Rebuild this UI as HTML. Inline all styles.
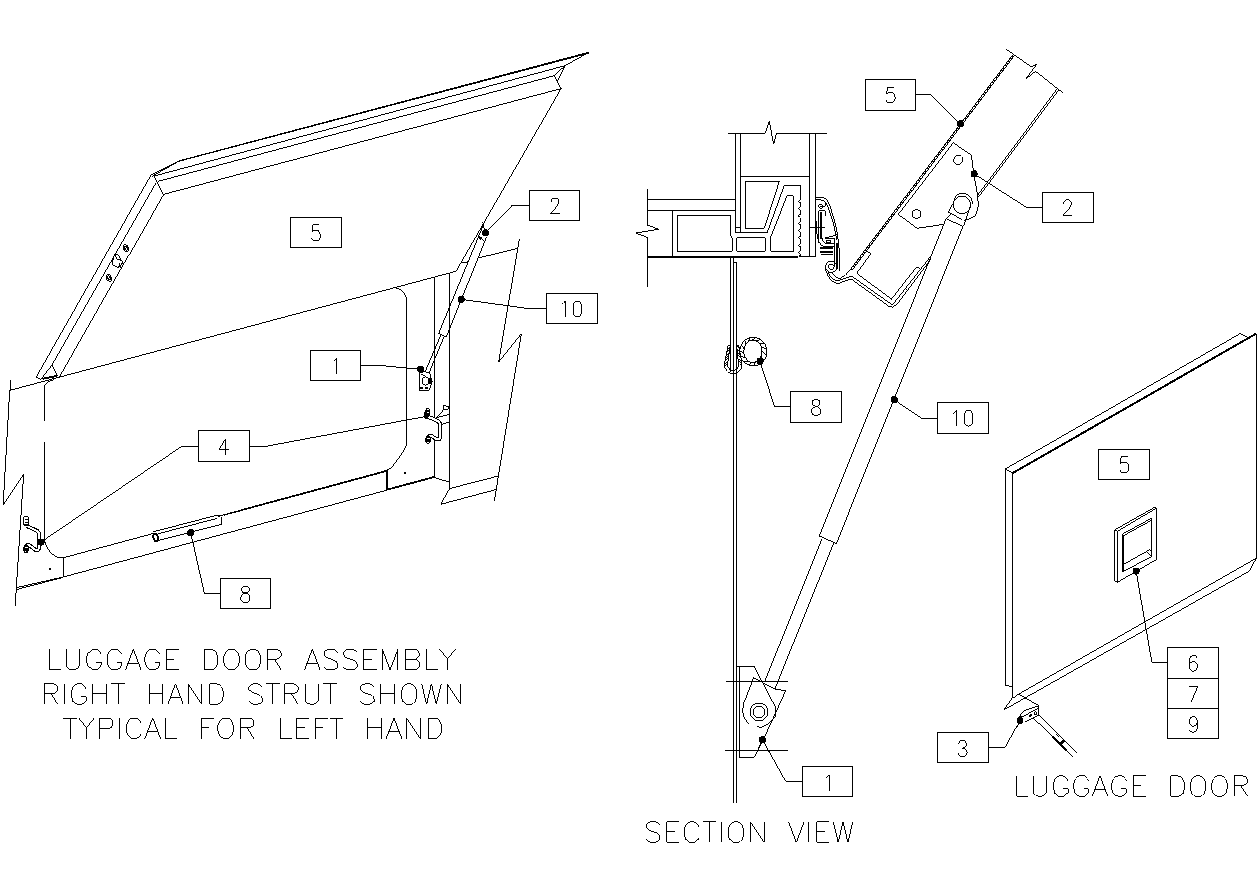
<!DOCTYPE html>
<html><head><meta charset="utf-8"><title>Luggage Door Assembly</title>
<style>
html,body{margin:0;padding:0;background:#fff;font-family:"Liberation Sans",sans-serif;}
svg{display:block;}
</style></head>
<body>
<svg width="1260" height="892" viewBox="0 0 1260 892" shape-rendering="crispEdges">
<rect x="0" y="0" width="1260" height="892" fill="#fff" stroke="none"/>
<g fill="none" stroke="#000" stroke-width="0.99" stroke-linecap="butt" stroke-linejoin="miter">
<path d="M151.0 175.0 L178.6 161.0 L589.3 52.1"/>
<path d="M151.9 176.4 L178.6 161.3 L589.3 53.1"/>
<path d="M154.3 176.0 L565.0 65.7"/>
<path d="M589.3 52.1 L565.0 65.7"/>
<path d="M157.9 181.4 L554.3 75.7"/>
<path d="M554.3 75.7 L565.0 65.7"/>
<path d="M554.3 75.7 L561.1 88.6"/>
<path d="M565.0 65.7 L557.8 80.5"/>
<path d="M163.1 194.5 L561.1 88.6"/>
<path d="M154.3 176.4 L163.1 194.5"/>
<path d="M561.1 88.6 L456.0 271.3"/>
<path d="M151.0 175.0 L36.0 377.4"/>
<path d="M156.2 182.6 L51.9 365.2 L41.7 378.3"/>
<path d="M163.1 194.5 L59.3 377.1"/>
<path d="M35.5 377.4 L39.8 379.5 L41.7 378.6 L57.4 375.2"/>
<path d="M42.5 379.2 L57.4 376.2"/>
<path d="M51.9 365.2 L57.4 376.0"/>
<path d="M111.17 276.84 L111.55 278.02 L111.61 279.19 L111.35 280.20 L110.79 280.93 L110.00 281.30 L109.08 281.25 L108.14 280.81 L107.29 280.01 L106.63 278.96 L106.25 277.78 L106.19 276.61 L106.45 275.60 L107.01 274.87 L107.80 274.50 L108.72 274.55 L109.66 274.99 L110.51 275.79 Z"/>
<path d="M109.99 277.39 L110.26 278.19 L110.33 278.95 L110.18 279.55 L109.83 279.89 L109.34 279.94 L108.79 279.67 L108.25 279.13 L107.81 278.41 L107.54 277.61 L107.47 276.85 L107.62 276.25 L107.97 275.91 L108.46 275.86 L109.01 276.13 L109.55 276.67 Z"/>
<path d="M107.4 279.4 L110.4 276.4"/>
<path d="M128.27 247.04 L128.65 248.22 L128.71 249.39 L128.45 250.40 L127.89 251.13 L127.10 251.50 L126.18 251.45 L125.24 251.01 L124.39 250.21 L123.73 249.16 L123.35 247.98 L123.29 246.81 L123.55 245.80 L124.11 245.07 L124.90 244.70 L125.82 244.75 L126.76 245.19 L127.61 245.99 Z"/>
<path d="M127.09 247.59 L127.36 248.39 L127.43 249.15 L127.28 249.75 L126.93 250.09 L126.44 250.14 L125.89 249.87 L125.35 249.33 L124.91 248.61 L124.64 247.81 L124.57 247.05 L124.72 246.45 L125.07 246.11 L125.56 246.06 L126.11 246.33 L126.65 246.87 Z"/>
<path d="M124.5 249.6 L127.5 246.6"/>
<path d="M114.3 254.3 L118.6 255.2 L122.9 262.9 L118.1 267.6 L112.1 264.3 Z"/>
<path d="M115.3 255.3 L117.5 259.5 L120.5 260.5"/>
<path d="M118.1 267.6 L120.2 262.8"/>
<path d="M119.8 268.0 L121.8 263.3"/>
<path d="M9.7 390.4 L456.0 271.3"/>
<path d="M10.3 380.0 L10.3 389.5"/>
<path d="M9.7 390.4 L3.1 505.4 L23.6 474.3 L15.2 605.7"/>
<path d="M16.7 587.6 L63.3 577.0 L434.0 477.5"/>
<path d="M16.7 589.5 L63.3 577.3"/>
<path d="M386.7 489.3 L434.0 476.6"/>
<path d="M44.50 420.70 L44.50 386.70 L44.72 385.79 L45.09 384.92 L45.61 384.11 L46.29 383.34 L47.12 382.62 L48.11 381.96 L49.25 381.35 L50.55 380.78 L52.00 380.27 L53.60 379.80"/>
<path d="M44.50 442.00 L44.50 540.00 L44.78 541.24 L45.11 542.45 L45.48 543.62 L45.89 544.75 L46.34 545.84 L46.84 546.89 L47.37 547.91 L47.95 548.88 L48.57 549.82 L49.24 550.72 L49.94 551.58 L50.69 552.41 L51.48 553.19 L52.31 553.94 L53.18 554.65 L54.10 555.32 L55.06 555.95 L56.06 556.54 L57.10 557.10 L63.60 557.70"/>
<path d="M63.6 557.7 L152.5 533.7"/>
<path d="M217.5 516.2 L380.0 472.3 L387.1 470.0 L391.4 467.9 L401.4 454.3 L405.3 448.0"/>
<path d="M405.30 448.00 L405.78 446.94 L406.12 445.75 L406.33 444.44 L406.40 443.00 L406.40 299.00 L406.23 297.89 L405.98 296.83 L405.63 295.82 L405.19 294.85 L404.66 293.93 L404.03 293.06 L403.32 292.24 L402.51 291.47 L401.61 290.74 L400.62 290.07 L399.54 289.44 L398.37 288.86 L397.10 288.32 L395.75 287.84 L394.30 287.40"/>
<path d="M224.0 515.2 L386.0 471.5"/>
<path d="M63.3 557.7 L63.3 577.1"/>
<path d="M386.7 470.0 L386.7 490.0" stroke-width="2"/>
<rect x="49" y="568" width="2" height="2" fill="#000" stroke="none"/>
<rect x="404" y="472" width="2" height="2" fill="#000" stroke="none"/>
<path d="M434.4 276.9 L434.4 417.8"/>
<path d="M434.4 440.3 L434.4 477.1"/>
<path d="M449.6 272.9 L449.6 488.6"/>
<path d="M434.0 477.5 L449.6 482.1"/>
<path d="M449.6 488.6 L497.9 476.1"/>
<path d="M449.6 488.6 L440.7 504.3 L496.0 489.6"/>
<path d="M519.3 239.3 L498.6 362.1 L521.4 333.6 L494.3 501.4"/>
<path d="M478.6 257.9 L517.1 248.6"/>
<path d="M483.6 224.3 L438.6 333.6 L446.4 336.9 L486.4 237.1"/>
<path d="M441.0 334.6 L425.5 371.0"/>
<path d="M444.3 336.0 L429.0 373.0"/>
<path d="M461.4 262.9 L468.6 261.7"/>
<path d="M482.9 222.0 L484.5 231.0"/>
<circle cx="480.5" cy="238.3" r="1.3" fill="#000" stroke="none"/>
<path d="M479.0 236.5 L484.0 240.5"/>
<path d="M419.7 372.9 L419.7 390.7 L429.3 390.0 L432.3 381.0 L430.0 373.5 L424.0 371.0"/>
<path d="M428.90 381.00 L428.75 382.24 L428.31 383.37 L427.62 384.28 L426.74 384.91 L425.75 385.19 L424.74 385.09 L423.80 384.64 L423.01 383.86 L422.44 382.82 L422.14 381.63 L422.14 380.37 L422.44 379.18 L423.01 378.14 L423.80 377.36 L424.74 376.91 L425.75 376.81 L426.74 377.09 L427.62 377.72 L428.31 378.63 L428.75 379.76 Z"/>
<ellipse cx="430.3" cy="380.7" rx="2.2" ry="3.2" fill="#000" stroke="none"/>
<path d="M422.50 388.00 L422.42 388.38 L422.21 388.71 L421.88 388.92 L421.50 389.00 L421.12 388.92 L420.79 388.71 L420.58 388.38 L420.50 388.00 L420.58 387.62 L420.79 387.29 L421.12 387.08 L421.50 387.00 L421.88 387.08 L422.21 387.29 L422.42 387.62 Z"/>
<path d="M427.50 388.00 L427.42 388.38 L427.21 388.71 L426.88 388.92 L426.50 389.00 L426.12 388.92 L425.79 388.71 L425.58 388.38 L425.50 388.00 L425.58 387.62 L425.79 387.29 L426.12 387.08 L426.50 387.00 L426.88 387.08 L427.21 387.29 L427.42 387.62 Z"/>
<path d="M420.5 374.0 L425.0 377.0"/>
<path d="M436.2 417.8 L443.6 409.8"/>
<path d="M443.3 405.2 L448.8 406.7 L448.8 408.9 L443.6 410.1 Z"/>
<path d="M436.2 417.8 L449.5 414.4"/>
<path d="M441.7 424.3 L449.5 421.8"/>
<path d="M428.5 417.3 L431.0 417.8 L438.2 421.2 L440.2 424.0 L440.4 437.0 L439.0 439.3 L436.5 439.3 L432.0 436.3 L429.5 436.0 L427.5 438.0" stroke-width="4" stroke-linejoin="round"/>
<path d="M428.5 417.3 L431.0 417.8 L438.2 421.2 L440.2 424.0 L440.4 437.0 L439.0 439.3 L436.5 439.3 L432.0 436.3 L429.5 436.0 L427.5 438.0" stroke-width="2" stroke="#fff" stroke-linejoin="round"/>
<ellipse cx="426.9" cy="413.6" rx="2.9" ry="5.8" fill="#000" stroke="none" transform="rotate(12 426.9 413.6)"/>
<rect x="426.6" y="409.3" width="2" height="1" fill="#fff" stroke="none"/>
<rect x="426.6" y="411.5" width="2" height="1" fill="#fff" stroke="none"/>
<ellipse cx="428" cy="439.8" rx="2.9" ry="4" fill="#000" stroke="none"/>
<rect x="427" y="438" width="2.5" height="1" fill="#fff" stroke="none"/>
<rect x="427" y="442" width="1.5" height="1" fill="#fff" stroke="none"/>
<path d="M26.8 526.0 L29.0 527.0 L37.5 531.2 L39.0 533.5 L39.0 548.3 L37.6 550.2 L35.5 549.8 L29.5 545.3 L27.5 545.0 L26.0 546.5" stroke-width="4" stroke-linejoin="round"/>
<path d="M26.8 526.0 L29.0 527.0 L37.5 531.2 L39.0 533.5 L39.0 548.3 L37.6 550.2 L35.5 549.8 L29.5 545.3 L27.5 545.0 L26.0 546.5" stroke-width="2" stroke="#fff" stroke-linejoin="round"/>
<ellipse cx="26" cy="521" rx="2.8" ry="5" fill="#fff" stroke="#000"/>
<path d="M24.5 519.0 L27.5 519.0"/>
<path d="M24.5 522.0 L27.5 522.0"/>
<path d="M24.3 524.3 L27.7 524.3"/>
<ellipse cx="26" cy="549" rx="2.8" ry="4" fill="#000" stroke="none"/>
<rect x="25" y="547" width="2.5" height="1" fill="#fff" stroke="none"/>
<rect x="24.5" y="551" width="1.5" height="1" fill="#fff" stroke="none"/>
<path d="M153.2 531.8 L216.4 515.4"/>
<path d="M157.5 533.6 L217.1 518.2"/>
<path d="M158.6 540.4 L221.8 524.3"/>
<path d="M216.40 515.40 L218.05 515.69 L219.40 516.16 L220.45 516.80 L221.20 517.62 L221.65 518.62 L221.80 519.80 L221.80 524.30"/>
<ellipse cx="155.7" cy="537.5" rx="3.2" ry="4.7" fill="#000" stroke="none" transform="rotate(-15 155.7 537.5)"/>
<ellipse cx="155.7" cy="537.5" rx="1.3" ry="2.7" fill="#fff" stroke="none" transform="rotate(-15 155.7 537.5)"/>
<rect x="290.3" y="217.4" width="51.4" height="30.0"/>
<path d="M319.2 224.9L312.8 224.9L312.2 231.7L312.8 231.0L314.7 230.2L316.6 230.2L318.6 231.0L319.8 232.5L320.5 234.7L320.5 236.2L319.8 238.5L318.6 240.0L316.6 240.8L314.7 240.8L312.8 240.0L312.2 239.2L311.5 237.7" class="t"/>
<rect x="310.5" y="350.5" width="49.5" height="29.8"/>
<path d="M333.7 361.1L335.0 360.3L336.9 358.1L336.9 373.8" class="t"/>
<path d="M360.0 365.3 L378.0 365.3 L420.7 369.3"/>
<circle cx="420.7" cy="369.3" r="3.6" fill="#000" stroke="none"/>
<rect x="529.3" y="190.3" width="50.4" height="30.1"/>
<path d="M551.2 201.8L551.2 201.1L551.8 199.6L552.4 198.8L553.7 198.0L556.3 198.0L557.6 198.8L558.2 199.6L558.8 201.1L558.8 202.6L558.2 204.1L556.9 206.3L550.5 213.8L559.5 213.8" class="t"/>
<path d="M529.3 205.4 L512.1 205.4 L485.4 232.9"/>
<circle cx="485.4" cy="232.9" r="3.6" fill="#000" stroke="none"/>
<rect x="546.4" y="293.6" width="51.2" height="30.0"/>
<path d="M562.1 304.1L563.4 303.3L565.3 301.1L565.3 316.8M576.8 301.1L574.9 301.8L573.6 304.1L573.0 307.8L573.0 310.1L573.6 313.8L574.9 316.1L576.8 316.8L578.1 316.8L580.0 316.1L581.3 313.8L581.9 310.1L581.9 307.8L581.3 304.1L580.0 301.8L578.1 301.1L576.8 301.1" class="t"/>
<path d="M546.4 308.6 L528.6 308.6 L461.1 299.3"/>
<circle cx="461.1" cy="299.3" r="3.6" fill="#000" stroke="none"/>
<rect x="198.3" y="430.3" width="51.4" height="31.1"/>
<path d="M225.6 438.8L219.2 449.3L228.8 449.3M225.6 438.8L225.6 454.5" class="t"/>
<path d="M198.3 446.1 L182.1 446.1 L41.0 542.1"/>
<circle cx="41.0" cy="542.1" r="3.6" fill="#000" stroke="none"/>
<path d="M249.7 446.1 L267.1 446.1 L424.0 416.8"/>
<rect x="220.3" y="578.6" width="50.4" height="29.7"/>
<path d="M244.1 586.7L242.2 587.4L241.6 588.9L241.6 590.4L242.2 591.9L243.5 592.7L246.0 593.4L248.0 594.2L249.2 595.7L249.9 597.2L249.9 599.4L249.2 600.9L248.6 601.7L246.7 602.5L244.1 602.5L242.2 601.7L241.6 600.9L240.9 599.4L240.9 597.2L241.6 595.7L242.8 594.2L244.8 593.4L247.3 592.7L248.6 591.9L249.2 590.4L249.2 588.9L248.6 587.4L246.7 586.7L244.1 586.7" class="t"/>
<path d="M220.3 593.1 L204.3 593.1 L190.7 532.7"/>
<circle cx="190.7" cy="532.7" r="3.6" fill="#000" stroke="none"/>
<path d="M49.6 649.3L49.6 669.9M49.6 669.9L61.3 669.9M66.1 649.3L66.1 664.0L67.1 667.0L69.1 668.9L72.0 669.9L73.9 669.9L76.8 668.9L78.8 667.0L79.8 664.0L79.8 649.3M101.2 654.2L100.2 652.2L98.2 650.3L96.3 649.3L92.4 649.3L90.5 650.3L88.5 652.2L87.5 654.2L86.6 657.1L86.6 662.1L87.5 665.0L88.5 667.0L90.5 668.9L92.4 669.9L96.3 669.9L98.2 668.9L100.2 667.0L101.2 665.0L101.2 662.1M96.3 662.1L101.2 662.1M121.6 654.2L120.6 652.2L118.7 650.3L116.7 649.3L112.8 649.3L110.9 650.3L108.9 652.2L108.0 654.2L107.0 657.1L107.0 662.1L108.0 665.0L108.9 667.0L110.9 668.9L112.8 669.9L116.7 669.9L118.7 668.9L120.6 667.0L121.6 665.0L121.6 662.1M116.7 662.1L121.6 662.1M133.3 649.3L125.5 669.9M133.3 649.3L141.1 669.9M128.4 663.0L138.1 663.0M159.5 654.2L158.6 652.2L156.6 650.3L154.7 649.3L150.8 649.3L148.8 650.3L146.9 652.2L145.9 654.2L144.9 657.1L144.9 662.1L145.9 665.0L146.9 667.0L148.8 668.9L150.8 669.9L154.7 669.9L156.6 668.9L158.6 667.0L159.5 665.0L159.5 662.1M154.7 662.1L159.5 662.1M166.4 649.3L166.4 669.9M166.4 649.3L179.0 649.3M166.4 659.1L174.1 659.1M166.4 669.9L179.0 669.9M204.3 649.3L204.3 669.9M204.3 649.3L211.1 649.3L214.0 650.3L216.0 652.2L216.9 654.2L217.9 657.1L217.9 662.1L216.9 665.0L216.0 667.0L214.0 668.9L211.1 669.9L204.3 669.9M229.6 649.3L227.7 650.3L225.7 652.2L224.7 654.2L223.8 657.1L223.8 662.1L224.7 665.0L225.7 667.0L227.7 668.9L229.6 669.9L233.5 669.9L235.4 668.9L237.4 667.0L238.4 665.0L239.3 662.1L239.3 657.1L238.4 654.2L237.4 652.2L235.4 650.3L233.5 649.3L229.6 649.3M251.0 649.3L249.1 650.3L247.1 652.2L246.1 654.2L245.2 657.1L245.2 662.1L246.1 665.0L247.1 667.0L249.1 668.9L251.0 669.9L254.9 669.9L256.8 668.9L258.8 667.0L259.8 665.0L260.7 662.1L260.7 657.1L259.8 654.2L258.8 652.2L256.8 650.3L254.9 649.3L251.0 649.3M267.5 649.3L267.5 669.9M267.5 649.3L276.3 649.3L279.2 650.3L280.2 651.3L281.2 653.2L281.2 655.2L280.2 657.1L279.2 658.1L276.3 659.1L267.5 659.1M274.4 659.1L281.2 669.9M312.3 649.3L304.5 669.9M312.3 649.3L320.1 669.9M307.4 663.0L317.2 663.0M337.6 652.2L335.7 650.3L332.7 649.3L328.8 649.3L325.9 650.3L324.0 652.2L324.0 654.2L325.0 656.2L325.9 657.1L327.9 658.1L333.7 660.1L335.7 661.1L336.6 662.1L337.6 664.0L337.6 667.0L335.7 668.9L332.7 669.9L328.8 669.9L325.9 668.9L324.0 667.0M357.1 652.2L355.1 650.3L352.2 649.3L348.3 649.3L345.4 650.3L343.4 652.2L343.4 654.2L344.4 656.2L345.4 657.1L347.3 658.1L353.2 660.1L355.1 661.1L356.1 662.1L357.1 664.0L357.1 667.0L355.1 668.9L352.2 669.9L348.3 669.9L345.4 668.9L343.4 667.0M363.9 649.3L363.9 669.9M363.9 649.3L376.5 649.3M363.9 659.1L371.7 659.1M363.9 669.9L376.5 669.9M382.4 649.3L382.4 669.9M382.4 649.3L390.1 669.9M397.9 649.3L390.1 669.9M397.9 649.3L397.9 669.9M405.7 649.3L405.7 669.9M405.7 649.3L414.5 649.3L417.4 650.3L418.4 651.3L419.3 653.2L419.3 655.2L418.4 657.1L417.4 658.1L414.5 659.1M405.7 659.1L414.5 659.1L417.4 660.1L418.4 661.1L419.3 663.0L419.3 666.0L418.4 667.9L417.4 668.9L414.5 669.9L405.7 669.9M426.1 649.3L426.1 669.9M426.1 669.9L437.8 669.9M439.8 649.3L447.5 659.1L447.5 669.9M455.3 649.3L447.5 659.1" class="t"/>
<path d="M44.2 683.8L44.2 704.4M44.2 683.8L52.9 683.8L55.9 684.8L56.8 685.8L57.8 687.7L57.8 689.7L56.8 691.6L55.9 692.6L52.9 693.6L44.2 693.6M51.0 693.6L57.8 704.4M64.6 683.8L64.6 704.4M86.0 688.7L85.1 686.7L83.1 684.8L81.2 683.8L77.3 683.8L75.3 684.8L73.4 686.7L72.4 688.7L71.4 691.6L71.4 696.6L72.4 699.5L73.4 701.5L75.3 703.4L77.3 704.4L81.2 704.4L83.1 703.4L85.1 701.5L86.0 699.5L86.0 696.6M81.2 696.6L86.0 696.6M92.8 683.8L92.8 704.4M106.5 683.8L106.5 704.4M92.8 693.6L106.5 693.6M118.1 683.8L118.1 704.4M111.3 683.8L125.0 683.8M149.3 683.8L149.3 704.4M162.9 683.8L162.9 704.4M149.3 693.6L162.9 693.6M175.5 683.8L167.8 704.4M175.5 683.8L183.3 704.4M170.7 697.5L180.4 697.5M188.2 683.8L188.2 704.4M188.2 683.8L201.8 704.4M201.8 683.8L201.8 704.4M209.6 683.8L209.6 704.4M209.6 683.8L216.4 683.8L219.3 684.8L221.3 686.7L222.3 688.7L223.2 691.6L223.2 696.6L222.3 699.5L221.3 701.5L219.3 703.4L216.4 704.4L209.6 704.4M262.1 686.7L260.2 684.8L257.3 683.8L253.4 683.8L250.5 684.8L248.5 686.7L248.5 688.7L249.5 690.7L250.5 691.6L252.4 692.6L258.3 694.6L260.2 695.6L261.2 696.6L262.1 698.5L262.1 701.5L260.2 703.4L257.3 704.4L253.4 704.4L250.5 703.4L248.5 701.5M272.8 683.8L272.8 704.4M266.0 683.8L279.7 683.8M284.5 683.8L284.5 704.4M284.5 683.8L293.3 683.8L296.2 684.8L297.2 685.8L298.1 687.7L298.1 689.7L297.2 691.6L296.2 692.6L293.3 693.6L284.5 693.6M291.3 693.6L298.1 704.4M305.0 683.8L305.0 698.5L305.9 701.5L307.9 703.4L310.8 704.4L312.7 704.4L315.7 703.4L317.6 701.5L318.6 698.5L318.6 683.8M330.3 683.8L330.3 704.4M323.4 683.8L337.1 683.8M374.0 686.7L372.1 684.8L369.2 683.8L365.3 683.8L362.4 684.8L360.4 686.7L360.4 688.7L361.4 690.7L362.4 691.6L364.3 692.6L370.1 694.6L372.1 695.6L373.1 696.6L374.0 698.5L374.0 701.5L372.1 703.4L369.2 704.4L365.3 704.4L362.4 703.4L360.4 701.5M380.9 683.8L380.9 704.4M394.5 683.8L394.5 704.4M380.9 693.6L394.5 693.6M407.1 683.8L405.2 684.8L403.2 686.7L402.3 688.7L401.3 691.6L401.3 696.6L402.3 699.5L403.2 701.5L405.2 703.4L407.1 704.4L411.0 704.4L413.0 703.4L414.9 701.5L415.9 699.5L416.9 696.6L416.9 691.6L415.9 688.7L414.9 686.7L413.0 684.8L411.0 683.8L407.1 683.8M421.7 683.8L426.6 704.4M431.4 683.8L426.6 704.4M431.4 683.8L436.3 704.4M441.2 683.8L436.3 704.4M447.0 683.8L447.0 704.4M447.0 683.8L460.6 704.4M460.6 683.8L460.6 704.4" class="t"/>
<path d="M70.0 718.0L70.0 738.6M63.2 718.0L76.8 718.0M78.7 718.0L86.5 727.8L86.5 738.6M94.3 718.0L86.5 727.8M99.2 718.0L99.2 738.6M99.2 718.0L107.9 718.0L110.8 719.0L111.8 720.0L112.8 721.9L112.8 724.9L111.8 726.8L110.8 727.8L107.9 728.8L99.2 728.8M119.6 718.0L119.6 738.6M141.0 722.9L140.0 720.9L138.1 719.0L136.1 718.0L132.3 718.0L130.3 719.0L128.4 720.9L127.4 722.9L126.4 725.8L126.4 730.8L127.4 733.7L128.4 735.7L130.3 737.6L132.3 738.6L136.1 738.6L138.1 737.6L140.0 735.7L141.0 733.7M152.7 718.0L144.9 738.6M152.7 718.0L160.5 738.6M147.8 731.7L157.6 731.7M165.3 718.0L165.3 738.6M165.3 738.6L177.0 738.6M201.3 718.0L201.3 738.6M201.3 718.0L214.0 718.0M201.3 727.8L209.1 727.8M223.7 718.0L221.8 719.0L219.8 720.9L218.9 722.9L217.9 725.8L217.9 730.8L218.9 733.7L219.8 735.7L221.8 737.6L223.7 738.6L227.6 738.6L229.6 737.6L231.5 735.7L232.5 733.7L233.4 730.8L233.4 725.8L232.5 722.9L231.5 720.9L229.6 719.0L227.6 718.0L223.7 718.0M240.3 718.0L240.3 738.6M240.3 718.0L249.0 718.0L251.9 719.0L252.9 720.0L253.9 721.9L253.9 723.9L252.9 725.8L251.9 726.8L249.0 727.8L240.3 727.8M247.1 727.8L253.9 738.6M280.2 718.0L280.2 738.6M280.2 738.6L291.8 738.6M296.7 718.0L296.7 738.6M296.7 718.0L309.3 718.0M296.7 727.8L304.5 727.8M296.7 738.6L309.3 738.6M315.2 718.0L315.2 738.6M315.2 718.0L327.8 718.0M315.2 727.8L323.0 727.8M336.6 718.0L336.6 738.6M329.8 718.0L343.4 718.0M367.7 718.0L367.7 738.6M381.3 718.0L381.3 738.6M367.7 727.8L381.3 727.8M394.0 718.0L386.2 738.6M394.0 718.0L401.8 738.6M389.1 731.7L398.9 731.7M406.6 718.0L406.6 738.6M406.6 718.0L420.3 738.6M420.3 718.0L420.3 738.6M428.0 718.0L428.0 738.6M428.0 718.0L434.9 718.0L437.8 719.0L439.7 720.9L440.7 722.9L441.7 725.8L441.7 730.8L440.7 733.7L439.7 735.7L437.8 737.6L434.9 738.6L428.0 738.6" class="t"/>
<path d="M728.3 133.3 L765.0 133.3 L769.3 121.4 L773.6 144.3 L776.4 133.3 L826.5 133.3"/>
<path d="M735.4 133.3 L735.4 232.9 L767.1 232.9 L784.3 185.4 L800.7 185.4 L800.7 196.0"/>
<path d="M740.4 133.3 L740.4 232.9"/>
<path d="M735.4 227.4 L740.4 227.4"/>
<path d="M809.3 133.3 L809.3 256.4"/>
<path d="M815.7 133.3 L815.7 256.4"/>
<path d="M740.4 176.4 L809.3 176.4"/>
<path d="M745.4 181.4 L779.3 181.4 L764.3 228.3 L745.4 228.3 Z"/>
<path d="M770.70 251.40 L770.70 237.10 L786.60 196.80 L787.01 196.14 L787.55 195.68 L788.21 195.39 L789.00 195.30 L791.50 195.30 L792.42 195.54 L793.07 196.07 L793.47 196.89 L793.60 198.00 L793.60 251.40 Z"/>
<rect x="736.4" y="237.4" width="29.3" height="14" rx="1.5"/>
<path d="M677.4 215.4 L730.7 215.4 L730.7 235.7 L732.6 238.6 L732.6 250.4 L731.6 251.4 L677.4 251.4 Z"/>
<path d="M674.00 210.40 L673.39 210.57 L672.95 210.90 L672.69 211.38 L672.60 212.00 L672.60 254.50 L672.69 255.17 L672.95 255.68 L673.39 256.02 L674.00 256.20"/>
<path d="M647.4 199.5 L735.4 199.5"/>
<path d="M647.4 210.4 L735.4 210.4"/>
<path d="M647.4 189.0 L647.4 225.0 L658.6 229.3 L635.7 233.1 L647.4 237.4 L647.4 286.9"/>
<path d="M647.4 256.6 L797.9 256.6" stroke-width="2"/>
<path d="M800.7 196.0 L800.6 197.0 L800.6 197.5 L800.6 198.0 L800.6 198.5 L800.6 199.0 L800.6 199.5 L800.0 200.0 L799.2 200.5 L798.7 201.0 L798.6 201.5 L799.0 202.0 L799.7 202.5 L800.5 203.0 L800.6 203.5 L800.6 204.0 L800.6 204.5 L800.6 205.0 L800.6 205.5 L800.6 206.0 L800.6 206.5 L800.4 207.0 L799.6 207.5 L799.0 208.0 L798.6 208.5 L798.7 209.0 L799.3 209.5 L800.0 210.0 L800.6 210.5 L800.6 211.0 L800.6 211.5 L800.6 212.0 L800.6 212.5 L800.6 213.0 L800.6 213.5 L800.6 214.0 L800.1 214.5 L799.3 215.0 L798.8 215.5 L798.6 216.0 L798.9 216.5 L799.6 217.0 L800.3 217.5 L800.6 218.0 L800.6 218.5 L800.6 219.0 L800.6 219.5 L800.6 220.0 L800.6 220.5 L800.6 221.0 L800.5 221.5 L799.8 222.0 L799.1 222.5 L798.6 223.0 L798.7 223.5 L799.1 224.0 L799.9 224.5 L800.6 225.0 L800.6 225.5 L800.6 226.0 L800.6 226.5 L800.6 227.0 L800.6 227.5 L800.6 228.0 L800.6 228.5 L800.3 229.0 L799.5 229.5 L798.9 230.0 L798.6 230.5 L798.8 231.0 L799.4 231.5 L800.2 232.0 L800.6 232.5 L800.6 233.0 L800.6 233.5 L800.6 234.0 L800.6 234.5 L800.6 235.0 L800.6 235.5 L800.6 236.0 L800.0 236.5 L799.2 237.0 L798.7 237.5 L798.6 238.0 L799.0 238.5 L799.7 239.0 L800.5 239.5 L800.6 240.0 L800.6 240.5 L800.6 241.0 L800.6 241.5 L800.6 242.0 L800.6 242.5 L800.6 243.0 L800.4 243.5 L799.6 244.0 L799.0 244.5 L798.6 245.0 L798.7 245.5 L799.3 246.0 L800.0 246.5 L800.6 247.0 L800.6 247.5 L800.6 248.0 L800.6 248.5 L800.6 249.0 L800.6 249.5 L800.6 250.0 L800.6 250.5 L800.1 251.0 L799.3 251.5 L798.8 252.0 L798.6 252.5 L798.9 253.0 L799.6 253.5 L800.3 254.0 L800.6 254.5 L800.6 255.0 L799.0 255.8"/>
<path d="M798.6 256.2 L815.7 256.2"/>
<path d="M809.6 227.1 L825.0 227.1"/>
<path d="M730.5 257.5 L730.5 371.5"/>
<path d="M733.5 257.5 L733.5 803.2"/>
<path d="M736.6 262.6 L736.6 803.2"/>
<path d="M733.5 262.6 L736.6 262.6"/>
<path d="M815.70 197.30 L821.80 197.30 L822.98 197.59 L824.07 197.99 L825.05 198.50 L825.93 199.12 L826.72 199.86 L827.40 200.70 L827.92 201.57 L828.43 202.53 L828.93 203.58 L829.42 204.73 L829.91 205.96 L830.38 207.28 L830.85 208.70 L831.30 210.20 L835.30 223.60 L837.50 234.80 L838.40 242.70 L839.50 252.80 L839.50 270.70"/>
<path d="M815.70 199.60 L821.80 200.10 L822.98 200.61 L824.02 201.25 L824.93 202.01 L825.70 202.90 L826.21 203.69 L826.71 204.56 L827.21 205.51 L827.69 206.56 L828.17 207.69 L828.64 208.90 L829.10 210.20 L833.60 223.60 L835.80 234.80 L836.40 239.50"/>
<path d="M825.70 202.90 L825.85 204.11 L825.70 205.12 L825.25 205.96 L824.50 206.60 L822.80 206.80"/>
<path d="M822.90 206.20 L822.74 207.00 L822.28 207.68 L821.60 208.14 L820.80 208.30 L820.00 208.14 L819.32 207.68 L818.86 207.00 L818.70 206.20 L818.86 205.40 L819.32 204.72 L820.00 204.26 L820.80 204.10 L821.60 204.26 L822.28 204.72 L822.74 205.40 Z"/>
<circle cx="821.0" cy="206.4" r="0.6" fill="#000" stroke="none"/>
<path d="M818.5 242.7 L818.5 210.7 L825.2 210.7 L825.2 216.3"/>
<path d="M820.1 211.9 L820.1 239.3"/>
<path d="M821.6 211.9 L821.6 239.3"/>
<path d="M816.20 221.40 L816.80 232.60 L817.00 234.16 L817.24 235.63 L817.52 237.02 L817.85 238.32 L818.22 239.55 L818.64 240.68 L819.10 241.73 L819.60 242.70 L820.19 243.88 L820.95 244.82 L821.89 245.53 L823.00 246.00 L833.50 246.00"/>
<path d="M821.60 236.00 L821.85 237.38 L822.19 238.68 L822.62 239.88 L823.15 241.00 L823.77 242.02 L824.49 242.96 L825.30 243.80 L834.10 243.80"/>
<path d="M824.6 238.2 L837.0 234.8"/>
<path d="M824.6 238.2 L834.1 238.2 L834.1 246.0"/>
<path d="M826.0 240.0 L830.2 240.0 L830.2 242.6 L826.0 242.6 Z"/>
<path d="M820.1 247.9 L833.0 247.9" stroke-width="2"/>
<path d="M820.1 251.8 L832.5 251.8" stroke-width="2"/>
<path d="M820.7 254.4 L832.5 254.4"/>
<path d="M834.5 246.0 L834.5 266.2"/>
<path d="M837.0 242.7 L837.0 269.2" stroke-width="2"/>
<path d="M836.90 266.80 L836.77 268.00 L836.38 269.15 L835.76 270.19 L834.93 271.07 L833.92 271.75 L832.80 272.20 L831.60 272.39 L830.39 272.33 L829.23 272.00 L828.16 271.44 L827.23 270.65 L826.50 269.69 L825.99 268.59 L825.73 267.41 L825.73 266.19 L825.99 265.01 L826.50 263.91 L827.23 262.95 L828.16 262.16 L829.23 261.60 L830.39 261.27 L831.60 261.21 L832.80 261.40 L833.92 261.85 L834.93 262.53 L835.76 263.41 L836.38 264.45 L836.77 265.60 Z"/>
<path d="M834.10 266.80 L833.89 267.87 L833.28 268.78 L832.37 269.39 L831.30 269.60 L830.23 269.39 L829.32 268.78 L828.71 267.87 L828.50 266.80 L828.71 265.73 L829.32 264.82 L830.23 264.21 L831.30 264.00 L832.37 264.21 L833.28 264.82 L833.89 265.73 Z"/>
<path d="M825.70 267.40 L825.74 268.91 L825.95 270.35 L826.34 271.71 L826.90 273.00 L827.32 274.12 L827.79 275.18 L828.30 276.19 L828.86 277.15 L829.46 278.05 L830.11 278.90 L830.80 279.70 L831.73 280.59 L832.70 281.37 L833.71 282.03 L834.75 282.59 L835.83 283.04 L836.95 283.37 L838.10 283.60 L851.10 278.90 L888.80 306.30 L892.40 307.20 L896.90 304.50 L930.90 259.30"/>
<path d="M828.00 271.80 L828.53 273.00 L829.10 274.13 L829.73 275.20 L830.40 276.20 L831.12 277.13 L831.90 278.00 L832.79 278.74 L833.74 279.38 L834.75 279.90 L835.81 280.31 L836.93 280.61 L838.10 280.80 L851.70 276.10 L892.40 305.00 L930.90 256.10 L930.90 259.30"/>
<path d="M831.90 272.40 L832.52 273.54 L833.30 274.57 L834.22 275.49 L835.30 276.30 L836.41 277.07 L837.53 277.67 L838.66 278.12 L839.80 278.40 L845.40 275.40 L850.60 268.90"/>
<path d="M871.1 253.3 L856.7 273.3 L891.5 299.1 L916.6 266.9 L920.2 268.7"/>
<path d="M905.7 288.3 L907.7 290.3"/>
<path d="M871.1 253.3 L866.7 251.1"/>
<path d="M850.5 269.2 L1012.3 55.3"/>
<path d="M851.9 270.3 L1013.7 56.4"/>
<path d="M850.5 269.2 L852.5 269.5M852.3 266.8 L854.3 267.1M854.1 264.4 L856.2 264.7M855.9 262.0 L858.0 262.3M857.7 259.6 L859.8 259.9M859.5 257.2 L861.6 257.5M861.4 254.8 L863.4 255.1M863.2 252.5 L865.2 252.7M865.0 250.1 L867.0 250.3M866.8 247.7 L868.8 248.0M868.6 245.3 L870.6 245.6M870.4 242.9 L872.4 243.2M872.2 240.5 L874.3 240.8M874.0 238.1 L876.1 238.4M875.8 235.7 L877.9 236.0M877.6 233.3 L879.7 233.6M879.5 230.9 L881.5 231.2M881.3 228.5 L883.3 228.8M883.1 226.1 L885.1 226.4M884.9 223.7 L886.9 224.0M886.7 221.3 L888.7 221.6M888.5 219.0 L890.5 219.2M890.3 216.6 L892.4 216.9M892.1 214.2 L894.2 214.5M893.9 211.8 L896.0 212.1M895.7 209.4 L897.8 209.7M897.6 207.0 L899.6 207.3M899.4 204.6 L901.4 204.9M901.2 202.2 L903.2 202.5M903.0 199.8 L905.0 200.1M904.8 197.4 L906.8 197.7M906.6 195.0 L908.6 195.3M908.4 192.6 L910.5 192.9M910.2 190.2 L912.3 190.5M912.0 187.9 L914.1 188.1M913.8 185.5 L915.9 185.7M915.7 183.1 L917.7 183.4M917.5 180.7 L919.5 181.0M919.3 178.3 L921.3 178.6M921.1 175.9 L923.1 176.2M922.9 173.5 L924.9 173.8M924.7 171.1 L926.7 171.4M926.5 168.7 L928.6 169.0M928.3 166.3 L930.4 166.6M930.1 163.9 L932.2 164.2M931.9 161.5 L934.0 161.8M933.8 159.1 L935.8 159.4M935.6 156.7 L937.6 157.0M937.4 154.4 L939.4 154.6M939.2 152.0 L941.2 152.3M941.0 149.6 L943.0 149.9M942.8 147.2 L944.8 147.5M944.6 144.8 L946.6 145.1M946.4 142.4 L948.5 142.7M948.2 140.0 L950.3 140.3M950.0 137.6 L952.1 137.9M951.9 135.2 L953.9 135.5M953.7 132.8 L955.7 133.1M955.5 130.4 L957.5 130.7M957.3 128.0 L959.3 128.3M959.1 125.6 L961.1 125.9M960.9 123.3 L962.9 123.5M962.7 120.9 L964.7 121.1M964.5 118.5 L966.6 118.8M966.3 116.1 L968.4 116.4M968.1 113.7 L970.2 114.0M969.9 111.3 L972.0 111.6M971.8 108.9 L973.8 109.2M973.6 106.5 L975.6 106.8M975.4 104.1 L977.4 104.4M977.2 101.7 L979.2 102.0M979.0 99.3 L981.0 99.6M980.8 96.9 L982.8 97.2M982.6 94.5 L984.7 94.8M984.4 92.1 L986.5 92.4M986.2 89.8 L988.3 90.0M988.0 87.4 L990.1 87.7M989.9 85.0 L991.9 85.3M991.7 82.6 L993.7 82.9M993.5 80.2 L995.5 80.5M995.3 77.8 L997.3 78.1M997.1 75.4 L999.1 75.7M998.9 73.0 L1000.9 73.3M1000.7 70.6 L1002.8 70.9M1002.5 68.2 L1004.6 68.5M1004.3 65.8 L1006.4 66.1M1006.1 63.4 L1008.2 63.7M1008.0 61.0 L1010.0 61.3M1009.8 58.7 L1011.8 58.9M1011.6 56.3 L1013.6 56.5"/>
<path d="M977.2 195.6 L1057.2 88.9"/>
<path d="M978.7 196.7 L1058.7 90.0"/>
<path d="M1006.1 49.1 L1031.1 66.7 L1036.7 64.4 L1026.1 78.7 L1035.6 71.3 L1062.8 92.8"/>
<path d="M898.3 214.4 L953.3 142.8 L971.3 155.0 L974.4 177.8 L977.7 195.5 L978.4 204.9 L976.4 213.6 L975.0 216.0 L964.3 221.0"/>
<path d="M898.3 214.4 L917.1 228.3 L943.4 224.4"/>
<path d="M962.70 159.80 L962.54 160.99 L962.08 162.10 L961.35 163.05 L960.40 163.78 L959.29 164.24 L958.10 164.40 L956.91 164.24 L955.80 163.78 L954.85 163.05 L954.12 162.10 L953.66 160.99 L953.50 159.80 L953.66 158.61 L954.12 157.50 L954.85 156.55 L955.80 155.82 L956.91 155.36 L958.10 155.20 L959.29 155.36 L960.40 155.82 L961.35 156.55 L962.08 157.50 L962.54 158.61 Z"/>
<path d="M920.90 214.00 L920.74 215.19 L920.26 216.29 L919.50 217.22 L918.52 217.91 L917.40 218.31 L916.20 218.39 L915.03 218.15 L913.96 217.59 L913.09 216.78 L912.46 215.75 L912.14 214.60 L912.14 213.40 L912.46 212.25 L913.09 211.22 L913.96 210.41 L915.03 209.85 L916.20 209.61 L917.40 209.69 L918.52 210.09 L919.50 210.78 L920.26 211.71 L920.74 212.81 Z"/>
<path d="M970.60 204.90 L970.52 206.11 L970.26 207.30 L969.85 208.44 L969.28 209.51 L968.56 210.49 L967.72 211.37 L966.76 212.11 L965.71 212.72 L964.59 213.17 L963.41 213.47 L962.20 213.59 L960.99 213.55 L959.80 213.34 L958.64 212.97 L957.55 212.43 L956.54 211.76 L955.64 210.94 L954.86 210.01 L954.22 208.98 L953.72 207.88 L953.39 206.71 L953.22 205.51 L953.22 204.29 L953.39 203.09 L953.72 201.92 L954.22 200.82 L954.86 199.79 L955.64 198.86 L956.54 198.04 L957.55 197.37 L958.64 196.83 L959.80 196.46 L960.99 196.25 L962.20 196.21 L963.41 196.33 L964.59 196.63 L965.71 197.08 L966.76 197.69 L967.72 198.43 L968.56 199.31 L969.28 200.29 L969.85 201.36 L970.26 202.50 L970.52 203.69 Z"/>
<path d="M948.20 211.90 L952.90 204.00 L955.90 196.10 L956.79 195.24 L957.72 194.52 L958.70 193.95 L959.72 193.52 L960.79 193.24 L961.90 193.10 L963.29 193.16 L964.55 193.35 L965.69 193.66 L966.70 194.10 L967.76 194.86 L968.72 195.68 L969.60 196.55 L970.39 197.48 L971.09 198.46 L971.70 199.50 L972.08 200.50 L972.33 201.50 L972.43 202.50 L972.40 203.50"/>
<path d="M948.2 211.9 L962.3 219.7"/>
<path d="M951.2 214.3 L946.1 218.7 L963.3 226.4"/>
<path d="M946.1 218.7 L819.3 536.0 L836.4 543.6 L963.0 226.4 L970.7 204.5"/>
<path d="M822.1 538.6 L764.8 681.4"/>
<path d="M833.9 542.6 L774.9 688.9"/>
<path d="M736.6 666.4 L754.0 666.4 L774.9 706.0"/>
<path d="M774.90 706.00 L775.28 707.25 L775.58 708.51 L775.80 709.78 L775.92 711.05 L775.97 712.33 L775.93 713.61 L775.81 714.90 L775.60 716.20 L774.93 717.10 L774.24 717.98 L773.52 718.82 L772.78 719.64 L772.01 720.42 L771.22 721.18 L770.41 721.91 L769.58 722.61 L768.72 723.28 L767.84 723.92 L766.93 724.54 L766.00 725.12 L765.05 725.67 L764.07 726.20 L763.07 726.69 L762.05 727.16 L761.00 727.60 L757.10 726.30"/>
<path d="M739.4 666.4 L739.4 757.2 L753.7 757.2 L762.5 739.5"/>
<path d="M726.0 681.4 L787.9 681.4"/>
<path d="M725.1 750.3 L787.9 750.3"/>
<path d="M753.3 677.5 L774.3 688.9 L785.7 690.8 L764.8 736.5"/>
<path d="M753.30 677.50 L744.40 701.00 L744.01 702.41 L743.68 703.78 L743.41 705.10 L743.18 706.39 L743.02 707.63 L742.91 708.84 L742.85 710.00 L742.85 711.12 L742.90 712.20 L743.01 713.24 L743.18 714.24 L743.40 715.20 L743.67 716.12 L744.00 717.00 L744.59 718.12 L745.22 719.19 L745.88 720.21 L746.58 721.18 L747.32 722.10 L748.09 722.98 L748.90 723.80"/>
<path d="M767.90 711.90 L767.82 713.11 L767.57 714.30 L767.16 715.45 L766.60 716.52 L765.90 717.52 L765.07 718.40 L764.13 719.17 L763.09 719.80 L761.98 720.29 L760.81 720.61 L759.61 720.78 L758.39 720.78 L757.19 720.61 L756.02 720.29 L754.91 719.80 L753.87 719.17 L752.93 718.40 L752.10 717.52 L751.40 716.52 L750.84 715.45 L750.43 714.30 L750.18 713.11 L750.10 711.90 L750.18 710.69 L750.43 709.50 L750.84 708.35 L751.40 707.28 L752.10 706.28 L752.93 705.40 L753.87 704.63 L754.91 704.00 L756.02 703.51 L757.19 703.19 L758.39 703.02 L759.61 703.02 L760.81 703.19 L761.98 703.51 L763.09 704.00 L764.13 704.63 L765.07 705.40 L765.90 706.28 L766.60 707.28 L767.16 708.35 L767.57 709.50 L767.82 710.69 Z"/>
<path d="M764.80 711.90 L764.67 713.11 L764.30 714.26 L763.69 715.31 L762.88 716.21 L761.90 716.92 L760.79 717.42 L759.61 717.67 L758.39 717.67 L757.21 717.42 L756.10 716.92 L755.12 716.21 L754.31 715.31 L753.70 714.26 L753.33 713.11 L753.20 711.90 L753.33 710.69 L753.70 709.54 L754.31 708.49 L755.12 707.59 L756.10 706.88 L757.21 706.38 L758.39 706.13 L759.61 706.13 L760.79 706.38 L761.90 706.88 L762.88 707.59 L763.69 708.49 L764.30 709.54 L764.67 710.69 Z"/>
<path d="M762.5 739.7 L756.5 752.9"/>
<path d="M762.5 739.7 L769.6 752.9"/>
<path d="M766.90 351.60 L766.85 352.81 L766.70 354.02 L766.46 355.20 L766.12 356.36 L765.69 357.49 L765.17 358.57 L764.57 359.61 L763.88 360.58 L763.12 361.49 L762.29 362.33 L761.39 363.10 L760.43 363.78 L759.42 364.37 L758.37 364.87 L757.28 365.27 L756.17 365.58 L755.03 365.78 L753.88 365.89 L752.72 365.89 L751.57 365.78 L750.43 365.58 L749.32 365.27 L748.23 364.87 L747.18 364.37 L746.17 363.78 L745.21 363.10 L744.31 362.33 L743.48 361.49 L742.72 360.58 L742.03 359.61 L741.43 358.57 L740.91 357.49 L740.48 356.36 L740.14 355.20 L739.90 354.02 L739.75 352.81 L739.70 351.60 L739.75 350.39 L739.90 349.18 L740.14 348.00 L740.48 346.84 L740.91 345.71 L741.43 344.63 L742.03 343.59 L742.72 342.62 L743.48 341.71 L744.31 340.87 L745.21 340.10 L746.17 339.42 L747.18 338.83 L748.23 338.33 L749.32 337.93 L750.43 337.62 L751.57 337.42 L752.72 337.31 L753.88 337.31 L755.03 337.42 L756.17 337.62 L757.28 337.93 L758.37 338.33 L759.42 338.83 L760.43 339.42 L761.39 340.10 L762.29 340.87 L763.12 341.71 L763.88 342.62 L764.57 343.59 L765.17 344.63 L765.69 345.71 L766.12 346.84 L766.46 348.00 L766.70 349.18 L766.85 350.39 Z"/>
<path d="M761.90 351.30 L761.85 352.51 L761.69 353.71 L761.43 354.88 L761.07 356.00 L760.61 357.07 L760.06 358.08 L759.43 359.00 L758.73 359.84 L757.95 360.57 L757.12 361.20 L756.23 361.70 L755.31 362.09 L754.36 362.35 L753.39 362.48 L752.41 362.48 L751.44 362.35 L750.49 362.09 L749.57 361.70 L748.68 361.20 L747.85 360.57 L747.07 359.84 L746.37 359.00 L745.74 358.08 L745.19 357.07 L744.73 356.00 L744.37 354.88 L744.11 353.71 L743.95 352.51 L743.90 351.30 L743.95 350.09 L744.11 348.89 L744.37 347.72 L744.73 346.60 L745.19 345.53 L745.74 344.52 L746.37 343.60 L747.07 342.76 L747.85 342.03 L748.68 341.40 L749.57 340.90 L750.49 340.51 L751.44 340.25 L752.41 340.12 L753.39 340.12 L754.36 340.25 L755.31 340.51 L756.23 340.90 L757.12 341.40 L757.95 342.03 L758.73 342.76 L759.43 343.60 L760.06 344.52 L760.61 345.53 L761.07 346.60 L761.43 347.72 L761.69 348.89 L761.85 350.09 Z"/>
<path d="M761.9 351.3 L766.4 355.5M761.1 355.9 L763.7 360.8M758.9 359.6 L759.3 364.5M755.7 362.0 L753.8 365.9M752.0 362.4 L748.2 364.9M748.4 361.0 L743.5 361.5M745.6 357.9 L740.5 356.5M744.1 353.6 L739.7 350.6M744.1 349.0 L741.3 344.9M745.6 344.7 L744.9 340.3M748.4 341.6 L750.0 337.7M752.0 340.2 L755.7 337.5M755.7 340.6 L760.9 339.7M758.9 343.0 L764.8 344.0M761.1 346.7 L766.8 349.6"/>
<path d="M728.20 345.10 L724.30 364.80 L724.56 366.21 L724.94 367.47 L725.44 368.59 L726.06 369.57 L726.80 370.40 L727.70 371.36 L728.66 372.14 L729.66 372.76 L730.70 373.22 L731.80 373.50 L735.00 373.30 L736.16 373.00 L737.15 372.60 L737.96 372.10 L738.60 371.50 L739.60 370.73 L740.40 369.90 L741.00 369.02 L741.40 368.10 L741.60 361.40 L738.60 345.10"/>
<path d="M730.40 345.10 L727.50 364.30 L727.72 365.71 L728.11 366.95 L728.66 368.04 L729.38 368.97 L730.26 369.74 L731.30 370.35 L732.50 370.80 L733.80 370.64 L734.96 370.29 L735.97 369.73 L736.84 368.97 L737.57 368.01 L738.16 366.86 L738.60 365.50 L736.60 345.10"/>
<path d="M728.2 345.1 L730.4 345.1"/>
<path d="M736.6 345.1 L738.6 345.1"/>
<path d="M727.7 348.7 L730.7 346.3M736.8 346.3 L739.3 348.7M727.1 351.7 L730.1 349.3M737.2 349.3 L739.7 351.7M726.5 354.7 L729.5 352.3M737.7 352.3 L740.2 354.7M725.9 357.7 L728.9 355.3M738.1 355.3 L740.6 357.7M725.3 360.7 L728.3 358.3M738.6 358.3 L741.1 360.7M724.7 363.7 L727.7 361.3M739.0 361.3 L741.5 363.7M724.1 366.7 L727.1 364.3M739.5 364.3 L742.0 366.7"/>
<rect x="865.5" y="79.5" width="50.3" height="30.5"/>
<path d="M893.8 87.0L887.4 87.0L886.8 93.8L887.4 93.1L889.3 92.3L891.2 92.3L893.2 93.1L894.4 94.6L895.1 96.8L895.1 98.3L894.4 100.6L893.2 102.1L891.2 102.9L889.3 102.9L887.4 102.1L886.8 101.3L886.1 99.8" class="t"/>
<path d="M915.8 94.6 L931.0 94.6 L960.3 123.9"/>
<circle cx="960.3" cy="123.9" r="3.6" fill="#000" stroke="none"/>
<rect x="1042.0" y="192.3" width="51.0" height="30.3"/>
<path d="M1063.7 203.6L1063.7 202.8L1064.3 201.3L1064.9 200.6L1066.2 199.8L1068.8 199.8L1070.1 200.6L1070.7 201.3L1071.3 202.8L1071.3 204.3L1070.7 205.8L1069.4 208.1L1063.0 215.6L1072.0 215.6" class="t"/>
<path d="M1042.0 207.0 L1026.0 207.0 L974.1 173.9"/>
<circle cx="974.1" cy="173.9" r="3.6" fill="#000" stroke="none"/>
<rect x="790.6" y="391.3" width="51.1" height="30.9"/>
<path d="M814.8 399.7L812.9 400.4L812.3 401.9L812.3 403.4L812.9 404.9L814.2 405.7L816.7 406.4L818.7 407.2L819.9 408.7L820.6 410.2L820.6 412.4L819.9 413.9L819.3 414.7L817.4 415.4L814.8 415.4L812.9 414.7L812.3 413.9L811.6 412.4L811.6 410.2L812.3 408.7L813.5 407.2L815.5 406.4L818.0 405.7L819.3 404.9L819.9 403.4L819.9 401.9L819.3 400.4L817.4 399.7L814.8 399.7" class="t"/>
<path d="M790.6 406.3 L774.4 406.3 L760.0 361.3"/>
<circle cx="760.0" cy="361.3" r="3.6" fill="#000" stroke="none"/>
<rect x="937.3" y="402.2" width="51.6" height="31.3"/>
<path d="M953.1 413.3L954.4 412.6L956.3 410.3L956.3 426.1M967.8 410.3L965.9 411.1L964.6 413.3L964.0 417.1L964.0 419.3L964.6 423.1L965.9 425.3L967.8 426.1L969.1 426.1L971.0 425.3L972.3 423.1L972.9 419.3L972.9 417.1L972.3 413.3L971.0 411.1L969.1 410.3L967.8 410.3" class="t"/>
<path d="M937.3 418.1 L921.4 418.1 L894.1 399.7"/>
<circle cx="894.1" cy="399.7" r="3.6" fill="#000" stroke="none"/>
<rect x="802.3" y="766.2" width="50.5" height="30.1"/>
<path d="M825.9 777.9L827.2 777.2L829.1 774.9L829.1 790.7" class="t"/>
<path d="M802.3 781.4 L785.7 781.4 L762.5 739.7"/>
<circle cx="762.5" cy="739.7" r="3.6" fill="#000" stroke="none"/>
<path d="M659.8 824.7L657.9 822.8L655.0 821.8L651.1 821.8L648.1 822.8L646.2 824.7L646.2 826.7L647.2 828.7L648.1 829.6L650.1 830.6L655.9 832.6L657.9 833.6L658.9 834.6L659.8 836.5L659.8 839.5L657.9 841.4L655.0 842.4L651.1 842.4L648.1 841.4L646.2 839.5M666.7 821.8L666.7 842.4M666.7 821.8L679.3 821.8M666.7 831.6L674.5 831.6M666.7 842.4L679.3 842.4M698.8 826.7L697.8 824.7L695.9 822.8L694.0 821.8L690.1 821.8L688.1 822.8L686.2 824.7L685.2 826.7L684.2 829.6L684.2 834.6L685.2 837.5L686.2 839.5L688.1 841.4L690.1 842.4L694.0 842.4L695.9 841.4L697.8 839.5L698.8 837.5M709.5 821.8L709.5 842.4M702.7 821.8L716.4 821.8M721.2 821.8L721.2 842.4M733.9 821.8L732.0 822.8L730.0 824.7L729.0 826.7L728.1 829.6L728.1 834.6L729.0 837.5L730.0 839.5L732.0 841.4L733.9 842.4L737.8 842.4L739.8 841.4L741.7 839.5L742.7 837.5L743.7 834.6L743.7 829.6L742.7 826.7L741.7 824.7L739.8 822.8L737.8 821.8L733.9 821.8M750.5 821.8L750.5 842.4M750.5 821.8L764.1 842.4M764.1 821.8L764.1 842.4M788.5 821.8L796.3 842.4M804.1 821.8L796.3 842.4M808.9 821.8L808.9 842.4M816.7 821.8L816.7 842.4M816.7 821.8L829.4 821.8M816.7 831.6L824.5 831.6M816.7 842.4L829.4 842.4M833.3 821.8L838.2 842.4M843.0 821.8L838.2 842.4M843.0 821.8L847.9 842.4M852.8 821.8L847.9 842.4" class="t"/>
<path d="M1005.4 468.9 L1240.3 333.5 L1247.1 337.1"/>
<path d="M1012.5 473.2 L1256.3 333.5" stroke-width="2"/>
<path d="M1256.3 333.5 L1256.3 558.2 L1249.3 571.1 L1003.9 709.9 L1012.5 697.6"/>
<path d="M1256.3 558.2 L1012.5 697.6"/>
<path d="M1005.4 468.9 L1005.4 685.0 L1012.5 687.1"/>
<path d="M1012.5 473.2 L1012.5 697.6"/>
<path d="M1005.4 468.9 L1012.5 473.2"/>
<path d="M1018.8 694.3 L1038.9 705.7"/>
<path d="M1019.3 716.7 L1023.6 711.0 L1038.9 705.7 L1038.9 714.8 L1024.6 722.4"/>
<path d="M1022.6 716.7 L1038.4 708.1"/>
<path d="M1019.3 716.7 L1022.6 716.7"/>
<ellipse cx="1030.5" cy="715.5" rx="1.1" ry="2" fill="#000" stroke="none" transform="rotate(15 1030.5 715.5)"/>
<path d="M1036.56 713.48 L1036.29 714.17 L1035.90 714.70 L1035.45 715.00 L1035.01 715.04 L1034.64 714.79 L1034.40 714.30 L1034.33 713.64 L1034.44 712.92 L1034.71 712.23 L1035.10 711.70 L1035.55 711.40 L1035.99 711.36 L1036.36 711.61 L1036.60 712.10 L1036.67 712.76 Z"/>
<path d="M1033.1 717.7 L1072.7 756.7"/>
<path d="M1038.9 714.8 L1076.5 752.9"/>
<path d="M1052.2 736.2 L1066.5 750.5" stroke-width="2"/>
<path d="M1059.3 745.0 L1064.6 739.7" stroke-width="3"/>
<path d="M1056.3 733.5 L1059.5 736.8"/>
<path d="M1117.6 531.3 L1156.4 508.1 L1156.4 559.5 L1117.6 582.2 Z"/>
<path d="M1117.6 531.3 L1114.6 530.0 L1154.9 507.1 L1156.4 508.1"/>
<path d="M1114.6 530.0 L1114.6 581.2 L1117.6 582.2"/>
<path d="M1122.1 534.3 L1151.6 518.2 L1151.6 556.5 L1122.1 572.1 Z"/>
<path d="M1123.1 535.3 L1123.1 571.0" stroke-width="2"/>
<path d="M1123.5 535.2 L1150.6 520.2"/>
<path d="M1124.2 564.0 L1149.4 549.9 L1151.6 551.0"/>
<path d="M1146.8 551.9 L1151.6 556.0"/>
<rect x="1098.2" y="449.2" width="51.4" height="30.0"/>
<path d="M1127.5 456.9L1121.1 456.9L1120.5 463.6L1121.1 462.9L1123.0 462.1L1124.9 462.1L1126.9 462.9L1128.1 464.4L1128.8 466.6L1128.8 468.1L1128.1 470.4L1126.9 471.9L1124.9 472.6L1123.0 472.6L1121.1 471.9L1120.5 471.1L1119.8 469.6" class="t"/>
<rect x="1167.4" y="647.5" width="51.4" height="90.7"/>
<path d="M1167.4 678.3 L1218.8 678.3"/>
<path d="M1167.4 708.5 L1218.8 708.5"/>
<path d="M1196.8 657.7L1196.2 656.2L1194.3 655.5L1193.0 655.5L1191.1 656.2L1189.8 658.5L1189.1 662.2L1189.1 666.0L1189.8 669.0L1191.1 670.5L1193.0 671.2L1193.6 671.2L1195.5 670.5L1196.8 669.0L1197.5 666.7L1197.5 666.0L1196.8 663.7L1195.5 662.2L1193.6 661.5L1193.0 661.5L1191.1 662.2L1189.8 663.7L1189.1 666.0" class="t"/>
<path d="M1197.8 686.1L1191.4 701.9M1188.8 686.1L1197.8 686.1" class="t"/>
<path d="M1197.5 721.8L1196.8 724.0L1195.5 725.5L1193.6 726.3L1193.0 726.3L1191.1 725.5L1189.8 724.0L1189.1 721.8L1189.1 721.0L1189.8 718.8L1191.1 717.3L1193.0 716.5L1193.6 716.5L1195.5 717.3L1196.8 718.8L1197.5 721.8L1197.5 725.5L1196.8 729.3L1195.5 731.5L1193.6 732.3L1192.3 732.3L1190.4 731.5L1189.8 730.0" class="t"/>
<path d="M1167.4 662.1 L1151.8 662.1 L1136.1 571.1"/>
<circle cx="1136.1" cy="571.1" r="3.6" fill="#000" stroke="none"/>
<rect x="937.3" y="732.7" width="51.4" height="29.8"/>
<path d="M958.7 743.6L959.3 742.1L959.9 741.3L961.2 740.6L963.8 740.6L965.1 741.3L965.7 742.1L966.3 743.6L966.3 745.1L965.7 746.6L965.1 747.3L963.1 748.1L961.9 748.1M963.1 748.1L965.1 748.8L966.3 750.3L967.0 751.8L967.0 753.3L966.3 754.8L965.7 755.6L963.8 756.4L961.2 756.4L959.3 755.6L958.7 754.8L958.0 753.3" class="t"/>
<path d="M988.7 747.3 L1005.0 747.3 L1020.0 720.5"/>
<circle cx="1020.0" cy="720.5" r="3.3" fill="#000" stroke="none"/>
<path d="M1016.5 775.8L1016.5 796.4M1016.5 796.4L1028.2 796.4M1033.0 775.8L1033.0 790.5L1034.0 793.5L1035.9 795.4L1038.8 796.4L1040.8 796.4L1043.7 795.4L1045.6 793.5L1046.6 790.5L1046.6 775.8M1068.0 780.7L1067.0 778.7L1065.0 776.8L1063.1 775.8L1059.2 775.8L1057.3 776.8L1055.3 778.7L1054.4 780.7L1053.4 783.6L1053.4 788.6L1054.4 791.5L1055.3 793.5L1057.3 795.4L1059.2 796.4L1063.1 796.4L1065.0 795.4L1067.0 793.5L1068.0 791.5L1068.0 788.6M1063.1 788.6L1068.0 788.6M1088.4 780.7L1087.4 778.7L1085.4 776.8L1083.5 775.8L1079.6 775.8L1077.7 776.8L1075.7 778.7L1074.8 780.7L1073.8 783.6L1073.8 788.6L1074.8 791.5L1075.7 793.5L1077.7 795.4L1079.6 796.4L1083.5 796.4L1085.4 795.4L1087.4 793.5L1088.4 791.5L1088.4 788.6M1083.5 788.6L1088.4 788.6M1100.0 775.8L1092.2 796.4M1100.0 775.8L1107.8 796.4M1095.2 789.5L1104.9 789.5M1126.2 780.7L1125.3 778.7L1123.3 776.8L1121.4 775.8L1117.5 775.8L1115.5 776.8L1113.6 778.7L1112.6 780.7L1111.7 783.6L1111.7 788.6L1112.6 791.5L1113.6 793.5L1115.5 795.4L1117.5 796.4L1121.4 796.4L1123.3 795.4L1125.3 793.5L1126.2 791.5L1126.2 788.6M1121.4 788.6L1126.2 788.6M1133.0 775.8L1133.0 796.4M1133.0 775.8L1145.6 775.8M1133.0 785.6L1140.8 785.6M1133.0 796.4L1145.6 796.4M1170.9 775.8L1170.9 796.4M1170.9 775.8L1177.7 775.8L1180.6 776.8L1182.5 778.7L1183.5 780.7L1184.5 783.6L1184.5 788.6L1183.5 791.5L1182.5 793.5L1180.6 795.4L1177.7 796.4L1170.9 796.4M1196.1 775.8L1194.2 776.8L1192.3 778.7L1191.3 780.7L1190.3 783.6L1190.3 788.6L1191.3 791.5L1192.3 793.5L1194.2 795.4L1196.1 796.4L1200.0 796.4L1202.0 795.4L1203.9 793.5L1204.9 791.5L1205.8 788.6L1205.8 783.6L1204.9 780.7L1203.9 778.7L1202.0 776.8L1200.0 775.8L1196.1 775.8M1217.5 775.8L1215.6 776.8L1213.6 778.7L1212.6 780.7L1211.7 783.6L1211.7 788.6L1212.6 791.5L1213.6 793.5L1215.6 795.4L1217.5 796.4L1221.4 796.4L1223.3 795.4L1225.3 793.5L1226.2 791.5L1227.2 788.6L1227.2 783.6L1226.2 780.7L1225.3 778.7L1223.3 776.8L1221.4 775.8L1217.5 775.8M1234.0 775.8L1234.0 796.4M1234.0 775.8L1242.7 775.8L1245.7 776.8L1246.6 777.8L1247.6 779.7L1247.6 781.7L1246.6 783.6L1245.7 784.6L1242.7 785.6L1234.0 785.6M1240.8 785.6L1247.6 796.4" class="t"/>
</g>
</svg>
</body></html>
